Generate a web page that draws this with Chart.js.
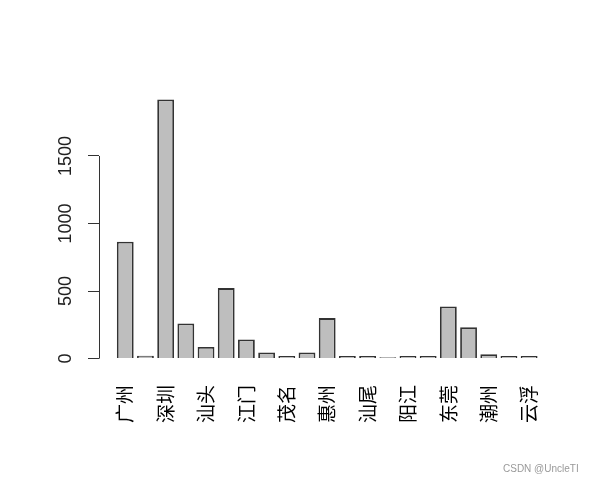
<!DOCTYPE html>
<html>
<head>
<meta charset="utf-8">
<script src="https://cdn.jsdelivr.net/npm/chart.js@4/dist/chart.umd.min.js"></script>
<style>
  body { margin: 0; background: #fff; }
  #wrap { position: relative; width: 607px; height: 485px; }
  #mark { position: absolute; left: 503px; top: 463px; font: 10px "Liberation Sans", Arial, sans-serif; color: #999; }
</style>
</head>
<body>
<div id="wrap">
  <canvas id="chart"></canvas>
  <div id="mark">CSDN @UncleTI</div>
</div>
<script>
// 21 cities of Guangdong, bar heights
const cities = ["广州", "韶关", "深圳", "珠海", "汕头", "佛山", "江门", "湛江", "茂名", "肇庆",
  "惠州", "梅州", "汕尾", "河源", "阳江", "清远", "东莞", "中山", "潮州", "揭阳", "云浮"];
const values = [866, 22, 1919, 260, 86, 522, 142, 46, 20, 46,
  300, 20, 20, 10, 20, 20, 386, 233, 32, 20, 20];
// only every other bar gets a label (like R does when they don't fit)
const labelIdx = [0, 2, 4, 6, 8, 10, 12, 14, 16, 18, 20];
const yTicks = [0, 500, 1000, 1500];

const numFont = { family: "'Liberation Sans', Arial, sans-serif", size: 18 };
const cjkFont = { family: "'Noto Sans CJK SC', sans-serif", size: 19 };

// R draws the y axis line only over the tick range
const axisLine = {
  id: 'axisLine',
  afterDraw(chart) {
    const y = chart.scales.y;
    const x = chart.chartArea.left;
    const ctx = chart.ctx;
    ctx.save();
    ctx.strokeStyle = '#333';
    ctx.lineWidth = 1;
    ctx.beginPath();
    ctx.moveTo(x + 0.5, y.getPixelForValue(yTicks[0]));
    ctx.lineTo(x + 0.5, y.getPixelForValue(yTicks[yTicks.length - 1]));
    ctx.stroke();
    ctx.restore();
  }
};

new Chart(document.getElementById('chart'), {
  type: 'bar',
  data: {
    datasets: [{
      data: values.map((v, i) => ({ x: i, y: v })),
      backgroundColor: '#bebebe',
      borderColor: '#333',
      borderWidth: 1.8,
      barPercentage: 0.833,
      categoryPercentage: 1
    }]
  },
  options: {
    responsive: true,
    maintainAspectRatio: false,
    animation: false,
    layout: { padding: { left: 39, right: 51, top: 89, bottom: 0 } },
    plugins: { legend: { display: false }, tooltip: { enabled: false } },
    scales: {
      x: {
        type: 'linear',
        offset: false,
        min: -1.3,
        max: 21.33,
        grid: { display: false, drawTicks: false },
        border: { display: false },
        afterBuildTicks: s => { s.ticks = labelIdx.map(v => ({ value: v })); },
        afterFit: s => { s.height = 116; },
        ticks: {
          autoSkip: false,
          minRotation: 90,
          maxRotation: 90,
          padding: 16,
          color: '#000',
          font: cjkFont,
          callback: v => cities[v]
        }
      },
      y: {
        min: -77,
        max: 1996,
        grid: { drawOnChartArea: false, drawTicks: true, tickLength: 11, color: '#333' },
        border: { display: false },
        afterBuildTicks: s => { s.ticks = yTicks.map(v => ({ value: v })); },
        afterFit: s => { s.width = 60; },
        ticks: {
          minRotation: 90,
          maxRotation: 90,
          crossAlign: 'center',
          padding: 2,
          color: '#222',
          font: numFont,
          callback: v => String(v)
        }
      }
    }
  },
  plugins: [axisLine]
});
</script>
</body>
</html>
